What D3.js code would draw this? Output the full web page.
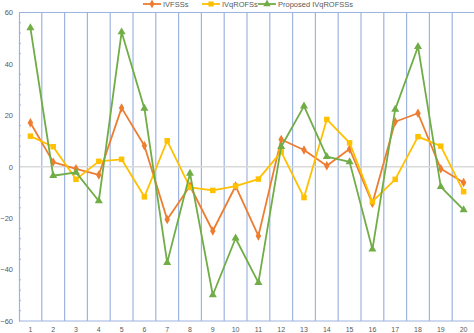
<!DOCTYPE html>
<html>
<head>
<meta charset="utf-8">
<script src="https://cdn.jsdelivr.net/npm/d3@7"></script>
<style>
  body { margin: 0; background: #fff; }
  svg { display: block; font-family: "Liberation Sans", Arial, sans-serif; }
</style>
</head>
<body>
<svg id="chart" width="474" height="333"></svg>
<script>
// categories on the x axis
const categories = d3.range(1, 21);

// series values
const ivfss = [17.1, 1.8, -0.8, -3.2, 22.9, 8.2, -20.5, -7.5, -25.0, -7.5,
               -26.9, 10.6, 6.5, 0.4, 6.9, -14.2, 17.5, 20.8, -0.8, -6.1];
const ivqrofs = [11.9, 7.8, -4.9, 2.1, 2.9, -11.7, 10.1, -8.0, -9.2, -7.5,
                 -4.8, 5.8, -12.0, 18.4, 9.3, -13.6, -4.9, 11.7, 8.0, -9.7];
const proposed = [54.0, -3.5, -2.2, -13.3, 52.4, 22.7, -37.3, -2.6, -49.9, -27.8,
                  -45.1, 7.8, 23.6, 3.9, 1.9, -32.1, 22.3, 46.7, -7.8, -16.8];

const yTicks = [-60, -40, -20, 0, 20, 40, 60];

const series = [
  { name: "IVFSSs", values: ivfss, color: "#ED7D31", symbol: d3.symbolDiamond, size: 26 },
  { name: "IVqROFSs", values: ivqrofs, color: "#FFC000", symbol: d3.symbolSquare, size: 30 },
  { name: "Proposed IVqROFSSs", values: proposed, color: "#70AD47", symbol: d3.symbolTriangle, size: 28 }
];

const svg = d3.select("#chart");
const plotLeft = 19, plotRight = 475, plotTop = 12.5, plotBottom = 321;
const gridColor = "#9DB4E0";

// scales
const x = d3.scaleBand().domain(categories).range([plotLeft, plotRight]).padding(0);
const y = d3.scaleLinear().domain([-60, 60]).range([plotBottom, plotTop]);

// vertical grid lines at category boundaries
svg.append("g")
  .selectAll("line")
  .data(categories.slice(1))
  .join("line")
  .attr("x1", d => x(d)).attr("x2", d => x(d))
  .attr("y1", plotTop).attr("y2", plotBottom)
  .attr("stroke", gridColor).attr("stroke-width", 1.2);

// top and bottom borders
svg.append("line").attr("x1", plotLeft).attr("x2", plotRight).attr("y1", plotTop).attr("y2", plotTop)
  .attr("stroke", gridColor).attr("stroke-width", 1.2);
svg.append("line").attr("x1", plotLeft).attr("x2", plotRight).attr("y1", plotBottom).attr("y2", plotBottom)
  .attr("stroke", gridColor).attr("stroke-width", 1.2);

// zero line
svg.append("line").attr("x1", plotLeft).attr("x2", plotRight).attr("y1", y(0)).attr("y2", y(0))
  .attr("stroke", "#D9D9D9").attr("stroke-width", 1.5);

// y axis with minor ticks every 4 units
const yAxis = svg.append("g")
  .attr("transform", `translate(${plotLeft},0)`)
  .call(d3.axisLeft(y).tickValues(yTicks).tickSize(0).tickPadding(6));
yAxis.select(".domain").attr("stroke", gridColor).attr("stroke-width", 1.2);
yAxis.selectAll("text").attr("fill", "#595959").style("font-size", "7.5px");

svg.append("g")
  .selectAll("line")
  .data(d3.range(-56, 60, 4).filter(v => v % 20 !== 0))
  .join("line")
  .attr("x1", plotLeft).attr("x2", plotLeft + 2)
  .attr("y1", d => y(d)).attr("y2", d => y(d))
  .attr("stroke", gridColor).attr("stroke-width", 1);

// x axis labels
const xAxis = svg.append("g")
  .attr("transform", `translate(0,${plotBottom})`)
  .call(d3.axisBottom(x).tickSize(0).tickPadding(6));
xAxis.select(".domain").remove();
xAxis.selectAll("text").attr("fill", "#595959").style("font-size", "7px");

// series lines and markers
const line = d3.line()
  .x((d, i) => x(categories[i]) + x.bandwidth() / 2)
  .y(d => y(d));

series.forEach(s => {
  svg.append("path")
    .datum(s.values)
    .attr("d", line)
    .attr("fill", "none")
    .attr("stroke", s.color)
    .attr("stroke-width", 1.8)
    .attr("stroke-linejoin", "round");

  svg.append("g")
    .selectAll("path")
    .data(s.values)
    .join("path")
    .attr("transform", (d, i) => `translate(${x(categories[i]) + x.bandwidth() / 2},${y(d)})`)
    .attr("d", d3.symbol().type(s.symbol).size(s.size))
    .attr("fill", s.color);
});

// legend
const legendX = [143, 202, 258];
const legend = svg.append("g");
series.forEach((s, i) => {
  const g = legend.append("g").attr("transform", `translate(${legendX[i]},4)`);
  g.append("line").attr("x1", 0).attr("x2", 18).attr("stroke", s.color).attr("stroke-width", 1.8);
  g.append("path").attr("transform", "translate(9,0)")
    .attr("d", d3.symbol().type(s.symbol).size(s.size - 4)).attr("fill", s.color);
  g.append("text").attr("x", 20).attr("y", 3)
    .attr("fill", "#595959").style("font-size", "7.5px")
    .text(s.name);
});
</script>
</body>
</html>
